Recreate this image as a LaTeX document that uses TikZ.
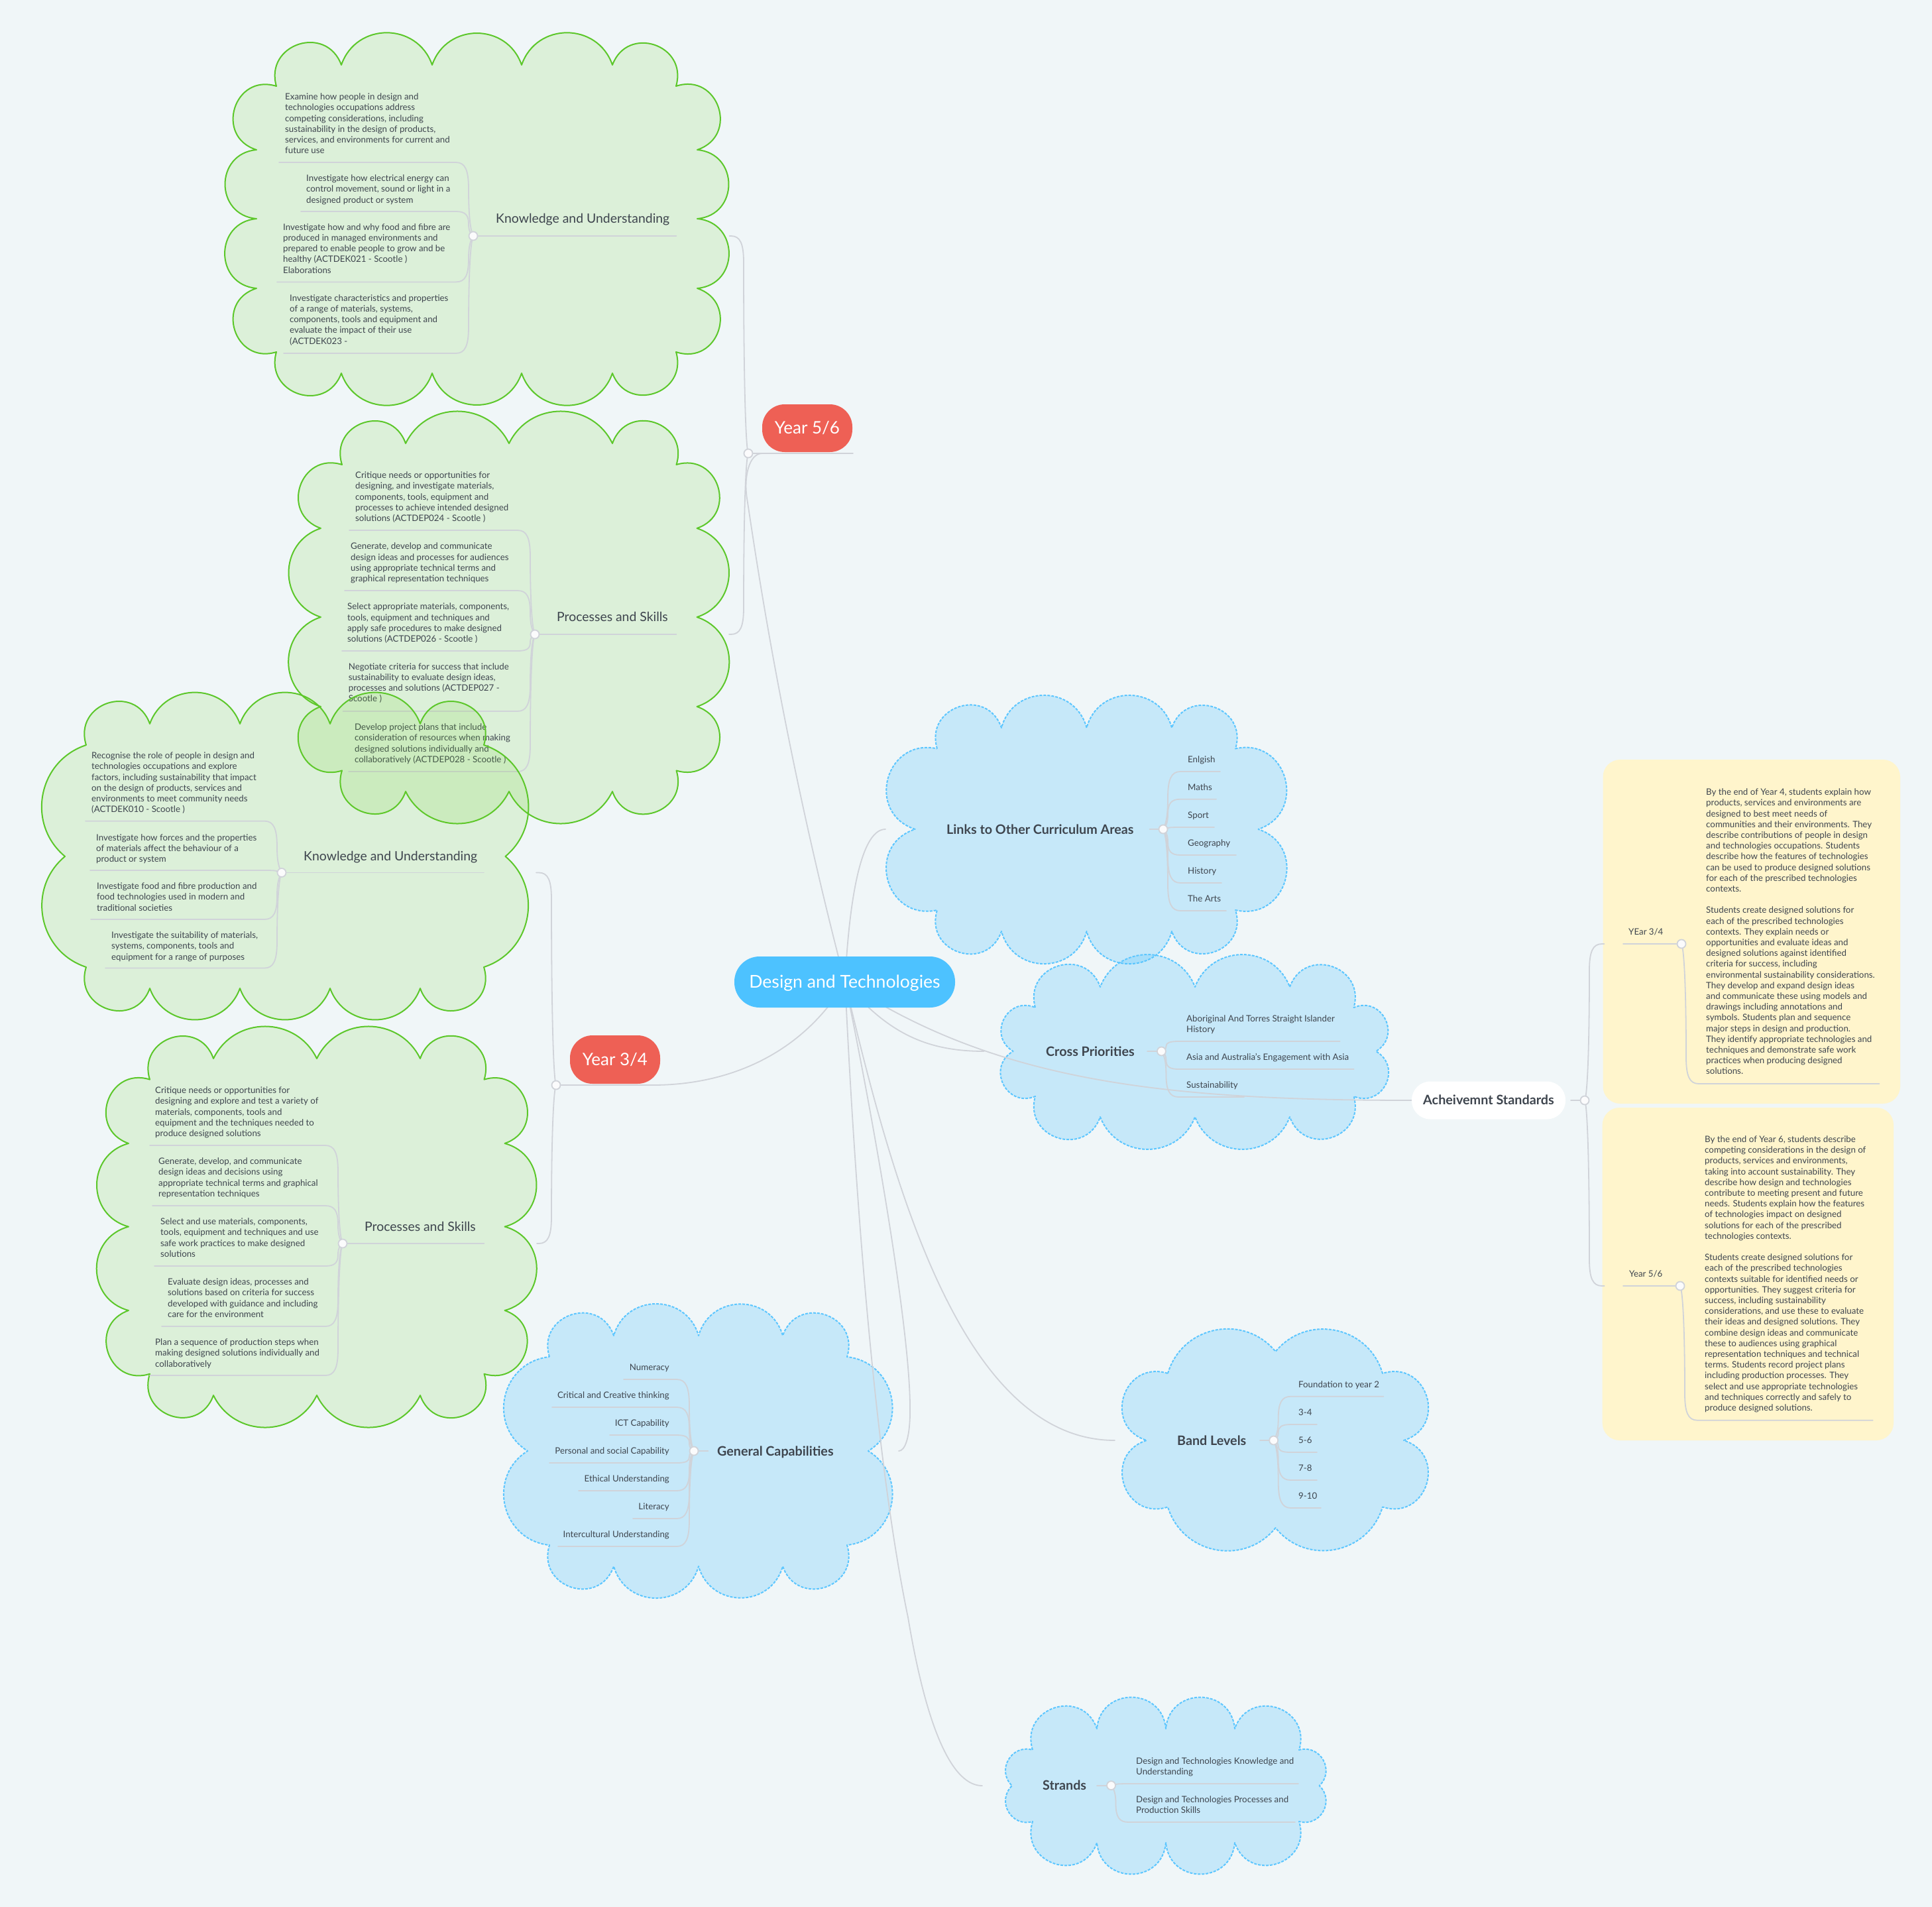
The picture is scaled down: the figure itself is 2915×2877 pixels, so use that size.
\documentclass[tikz,border=0pt]{standalone}
\usepackage{fontspec}
\setmainfont{Lato}
\usetikzlibrary{calc,topaths}
\definecolor{bgc}{HTML}{F0F6F8}
\definecolor{gline}{HTML}{5CC72A}
\definecolor{gfill}{HTML}{6CD028}
\definecolor{bline}{HTML}{5CC6FF}
\definecolor{bfill}{HTML}{4CC2FD}
\definecolor{conn}{HTML}{D0D3D9}
\definecolor{txt}{HTML}{3E454E}
\definecolor{topc}{HTML}{4DC2FF}
\definecolor{redc}{HTML}{EE6055}
\definecolor{yel}{HTML}{FFF5CC}
\tikzset{
  arcb/.code={\pgfmathsetmacro\lo{(4/3)*tan(#1/2)/(2*sin(#1))/0.3915}\tikzset{bend left=#1,looseness=\lo}},
  cloudg/.style={draw=gline,line width=2pt,fill=gfill,fill opacity=.15,line join=round},
  cloudb/.style={draw=bline,line width=2pt,dash pattern=on 4pt off 2pt,fill=bfill,fill opacity=.25,line join=round},
  conn/.style={draw=conn,line width=1.8pt,line cap=round},
  hubn/.style={circle,draw=conn,line width=1.8pt,fill=white!92!conn,minimum size=13pt,inner sep=0pt},
  paran/.style={anchor=north west,align=left,inner sep=0pt,text=txt,font=\fontsize{13.3}{16.2}\selectfont},
  parar/.style={anchor=north east,align=right,inner sep=0pt,text=txt,font=\fontsize{13.3}{16.2}\selectfont},
  sub/.style={anchor=base west,inner sep=0pt,text=txt,font=\fontsize{19.4}{24}\selectfont},
  boldn/.style={anchor=base west,inner sep=0pt,text=txt,font=\fontsize{19.7}{24}\selectfont\bfseries},
  topn/.style={rounded corners=38pt,fill=topc,text=white,font=\fontsize{26.6}{32}\selectfont,inner sep=0pt},
  redn/.style={rounded corners=34pt,fill=redc,text=white,font=\fontsize{26}{32}\selectfont,inner sep=0pt},
  whn/.style={rounded corners=28pt,fill=white,text=txt,font=\fontsize{19.8}{24}\selectfont\bfseries,inner sep=0pt},
  yelb/.style={fill=yel,rounded corners=26pt},
}
\newcommand\scal[4]{\path[#1] (#2,#3) \foreach \a/\b/\t in {#4} { to[arcb=\t] (\a,\b) } -- cycle;}
\newcommand\para[4]{\node[paran] (#1) at (#2,#3-5) {\rule{0pt}{10pt}#4};}
\newcommand\parr[4]{\node[parar] (#1) at (#2,#3-5) {\rule{0pt}{10pt}#4};}
\newcommand\lowered[2]{\raisebox{-#1pt}[0pt][0pt]{#2}}
\newcommand\branch[2]{\draw[conn] let \p1=(#1), \p2=(#2),
  \n1={(\x1>\x2)?1:-1}, \n2={(\y1>\y2)?1:-1},
  \n3={min(abs(\y1-\y2)*0.5,40)},
  \n4={\x1-(\n1)*26pt}, \n5={\x1-(\n1)*12pt}, \n6={\x1-(\n1)*7pt},
  \n7={\y2+(\n2)*\n3}, \n8={\y2+(\n2)*\n3*0.3},
  \n9={\n7+(\y1-\n7)*0.6}, \n{a}={\x1-(\n1)*4pt}, \n{b}={\y1-(\n2)*\n3*0.2}
  in (\x2,\y2) -- (\n4,\y2) .. controls (\n5,\y2) and (\n6,\n8) .. (\n6,\n7)
     .. controls (\n6,\n9) and (\n{a},\n{b}) .. (\x1,\y1);}
\newcommand\hubat[1]{\node[hubn] (#1n) at (#1) {};}
\begin{document}
\begin{tikzpicture}[x=1pt,y=-1pt]
\useasboundingbox (0,0) rectangle (2915,2877);
\fill[bgc] (0,0) rectangle (2915,2877);

% Cloud 1 : Year 5/6 Knowledge
\scal{cloudg}{417}{130}{515/98/88,652/98/71,787/98/71,924/98/71,1020/130/88,1052/226/90,1052/330/85,1052/435/85,1020/531/90,924/563/88,787/563/71,652/563/71,515/563/71,417/531/88,387/435/90,387/330/85,387/226/85,417/130/90}
\coordinate (h1) at (714,356);
\node[sub] (t1) at (748,336.5) {Knowledge and Understanding};
\para{a1}{430}{145.5}{Examine how people in design and\\technologies occupations address\\competing considerations, including\\sustainability in the design of products,\\services, and environments for current and\\future use}
\para{a2}{462}{268.4}{Investigate how electrical energy can\\control movement, sound or light in a\\designed product or system}
\para{a3}{427}{342}{Investigate how and why food and fibre are\\produced in managed environments and\\prepared to enable people to grow and be\\healthy (ACTDEK021 - Scootle )\\Elaborations}
\para{a4}{437}{449}{Investigate characteristics and properties\\of a range of materials, systems,\\components, tools and equipment and\\evaluate the impact of their use\\(ACTDEK023 -}
\coordinate (e1) at (1020.5,356);
\coordinate (a1e) at (421,245);\coordinate (a2e) at (454,319);\coordinate (a3e) at (418,425.4);\coordinate (a4e) at (428,533);
\draw[conn] (h1) -- (e1);
\branch{h1}{a1e}\branch{h1}{a2e}\branch{h1}{a3e}\branch{h1}{a4e}
\hubat{h1}

% Cloud 2 : Year 5/6 Processes
\scal{cloudg}{516}{701}{612/669/89,768/669/64,924/669/64,1020.5/701/89,1051.5/797/89,1051.5/931/72,1051.5/1066/72,1020.5/1162.5/89,924/1194/89,768/1194/64,612/1194/64,516/1162.5/89,484/1066/89,484/931/72,484/797/72,516/701/89}
\coordinate (h2) at (807,957);
\node[sub] (t2) at (840,937.5) {Processes and Skills};
\para{b1}{536}{716.5}{Critique needs or opportunities for\\designing, and investigate materials,\\components, tools, equipment and\\processes to achieve intended designed\\solutions (ACTDEP024 - Scootle )}
\para{b2}{529}{823.7}{Generate, develop and communicate\\design ideas and processes for audiences\\using appropriate technical terms and\\graphical representation techniques}
\para{b3}{524}{914.7}{Select appropriate materials, components,\\tools, equipment and techniques and\\apply safe procedures to make designed\\solutions (ACTDEP026 - Scootle )}
\para{b4}{525.6}{1005}{Negotiate criteria for success that include\\sustainability to evaluate design ideas,\\processes and solutions (ACTDEP027 -\\Scootle )}
\para{b5}{535}{1096.4}{Develop project plans that include\\consideration of resources when making\\designed solutions individually and\\collaboratively (ACTDEP028 - Scootle )}
\coordinate (e2) at (1020.5,957);
\coordinate (b1e) at (527,800);\coordinate (b2e) at (520,891);\coordinate (b3e) at (516,982);\coordinate (b4e) at (517.6,1073);\coordinate (b5e) at (526,1164);
\draw[conn] (h2) -- (e2);
\branch{h2}{b1e}\branch{h2}{b2e}\branch{h2}{b3e}\branch{h2}{b4e}\branch{h2}{b5e}
\hubat{h2}

% Cloud 3 : Year 3/4 Knowledge
\scal{cloudg}{130}{1124}{226/1092/89,362/1092/70,498/1092/70,634/1092/70,730/1124/89,762.5/1292/61,730/1459/61,634/1491/89,498/1491/70,362/1491/70,226/1491/70,130/1459/89,98/1292/61,130/1124/61}
\coordinate (h3) at (425,1316.5);
\node[sub] (t3) at (458,1298.5) {Knowledge and Understanding};
\para{c1}{138}{1139.5}{Recognise the role of people in design and\\technologies occupations and explore\\factors, including sustainability that impact\\on the design of products, services and\\environments to meet community needs\\(ACTDEK010 - Scootle )}
\para{c2}{145}{1262.8}{Investigate how forces and the properties\\of materials affect the behaviour of a\\product or system}
\para{c3}{146}{1336.5}{Investigate food and fibre production and\\food technologies used in modern and\\traditional societies}
\para{c4}{168}{1410.5}{Investigate the suitability of materials,\\systems, components, tools and\\equipment for a range of purposes}
\coordinate (e3) at (730,1316.5);
\coordinate (c1e) at (129,1238.7);\coordinate (c2e) at (136,1313);\coordinate (c3e) at (137,1387);\coordinate (c4e) at (159,1460.5);
\draw[conn] (h3) -- (e3);
\branch{h3}{c1e}\branch{h3}{c2e}\branch{h3}{c3e}\branch{h3}{c4e}
\hubat{h3}

% Cloud 4 : Year 3/4 Processes
\scal{cloudg}{226}{1628.6}{322/1597/89,478/1597/64,634/1597/64,730.5/1628.6/89,761.5/1725/89,761.5/1850.6/75,761.5/1977/75,730.5/2072.7/89,634/2105/89,478/2105/64,322/2105/64,226/2072.7/89,194/1977/89,194/1850.6/75,194/1725/75,226/1628.6/89}
\coordinate (h4) at (517,1876);
\node[sub] (t4) at (550,1857) {Processes and Skills};
\para{d1}{234}{1644.5}{Critique needs or opportunities for\\designing and explore and test a variety of\\materials, components, tools and\\equipment and the techniques needed to\\produce designed solutions}
\para{d2}{239}{1751.4}{Generate, develop, and communicate\\design ideas and decisions using\\appropriate technical terms and graphical\\representation techniques}
\para{d3}{242}{1842.4}{Select and use materials, components,\\tools, equipment and techniques and use\\safe work practices to make designed\\solutions}
\para{d4}{253}{1933.5}{Evaluate design ideas, processes and\\solutions based on criteria for success\\developed with guidance and including\\care for the environment}
\para{d5}{234}{2024.5}{Plan a sequence of production steps when\\making designed solutions individually and\\collaboratively}
\coordinate (e4) at (730.5,1876);
\coordinate (d1e) at (226,1728);\coordinate (d2e) at (230,1819);\coordinate (d3e) at (233,1910);\coordinate (d4e) at (244,2001);\coordinate (d5e) at (226,2075);
\draw[conn] (h4) -- (e4);
\branch{h4}{d1e}\branch{h4}{d2e}\branch{h4}{d3e}\branch{h4}{d4e}\branch{h4}{d5e}
\hubat{h4}

% Cloud 5 : General Capabilities
\scal{cloudb}{829}{2047}{926/2015/89,1054/2015/74,1181/2015/74,1278/2047/89,1310/2189/71,1278/2331/71,1181/2363/89,1054/2363/74,926/2363/74,829/2331/89,796/2189/71,829/2047/71}
\coordinate (h5) at (1047,2189);
\coordinate (s5) at (1068.5,2189);
\node[boldn] (t5) at (1082,2196) {General Capabilities};
\parr{g1}{1010}{2062.7}{Numeracy}
\parr{g2}{1010}{2104.3}{Critical and Creative thinking}
\parr{g3}{1010}{2146.7}{ICT Capability}
\parr{g4}{1010}{2188.7}{Personal and social Capability}
\parr{g5}{1010}{2230.7}{Ethical Understanding}
\parr{g6}{1010}{2272.7}{Literacy}
\parr{g7}{1010}{2314.7}{Intercultural Understanding}
\coordinate (g1e) at (941,2081);\coordinate (g2e) at (833,2123);\coordinate (g3e) at (920,2165);\coordinate (g4e) at (829,2207);\coordinate (g5e) at (873,2249);\coordinate (g6e) at (955,2291);\coordinate (g7e) at (842,2333);
\draw[conn] (h5) -- (s5);
\branch{h5}{g1e}\branch{h5}{g2e}\branch{h5}{g3e}\branch{h5}{g4e}\branch{h5}{g5e}\branch{h5}{g6e}\branch{h5}{g7e}
\hubat{h5}

% Cloud 6 : Links
\scal{cloudb}{1414}{1129.5}{1511/1098/89,1639.5/1098/75,1768/1098/75,1864/1129.5/89,1898.5/1251/87,1864/1373/87,1768/1405/89,1639.5/1405/75,1511/1405/75,1414/1373/89,1380.6/1251/87,1414/1129.5/87}
\coordinate (h6) at (1755,1251);
\coordinate (s6) at (1734.6,1251);
\node[boldn] (t6) at (1428,1258) {Links to Other Curriculum Areas};
\para{l1}{1792}{1145.6}{Enlgish}
\para{l2}{1792}{1187.4}{Maths}
\para{l3}{1792}{1229}{Sport}
\para{l4}{1792}{1271.4}{Geography}
\para{l5}{1792}{1313}{History}
\para{l6}{1792}{1355.4}{The Arts}
\coordinate (l1e) at (1841,1164);\coordinate (l2e) at (1835,1205.7);\coordinate (l3e) at (1832,1248);\coordinate (l4e) at (1865,1290);\coordinate (l5e) at (1843,1332);\coordinate (l6e) at (1850,1374);
\draw[conn] (h6) -- (s6);
\branch{h6}{l1e}\branch{h6}{l2e}\branch{h6}{l3e}\branch{h6}{l4e}\branch{h6}{l5e}\branch{h6}{l6e}
\hubat{h6}

% Cloud 7 : Cross Priorities
\scal{cloudb}{1562}{1520}{1660/1489/88,1803/1489/69,1946/1489/69,2042.6/1520/88,2076/1586/86,2042.6/1654/86,1946/1685/88,1803/1685/69,1660/1685/69,1562/1654/88,1528.6/1586/86,1562/1520/86}
\coordinate (h7) at (1752.4,1586);
\coordinate (s7) at (1731,1586);
\node[boldn] (t7) at (1578,1593) {Cross Priorities};
\para{x1}{1790}{1536.3}{Aboriginal And Torres Straight Islander\\History}
\para{x2}{1790}{1594.2}{Asia and Australia’s Engagement with Asia}
\para{x3}{1790}{1636.4}{Sustainability}
\coordinate (x1e) at (2021.6,1571);\coordinate (x2e) at (2042.6,1613);\coordinate (x3e) at (1877,1655);
\draw[conn] (h7) -- (s7);
\branch{h7}{x1e}\branch{h7}{x2e}\branch{h7}{x3e}
\hubat{h7}

% Cloud 8 : Band Levels
\scal{cloudb}{1762}{2072}{1924.5/2039/62,2086/2072/62,2118/2173/90,2086/2273.5/90,1924.5/2305/62,1762/2273.5/62,1730/2173/90,1762/2072/90}
\coordinate (h8) at (1921.7,2173);
\coordinate (s8) at (1901,2173);
\node[boldn] (t8) at (1776,2180) {Band Levels};
\para{n1}{1959}{2088}{Foundation to year 2}
\para{n2}{1959}{2130}{3-4}
\para{n3}{1959}{2172}{5-6}
\para{n4}{1959}{2214}{7-8}
\para{n5}{1959}{2256}{9-10}
\coordinate (n1e) at (2087.4,2106.7);\coordinate (n2e) at (1987,2149);\coordinate (n3e) at (1987,2191);\coordinate (n4e) at (1987,2233);\coordinate (n5e) at (1993,2275);
\draw[conn] (h8) -- (s8);
\branch{h8}{n1e}\branch{h8}{n2e}\branch{h8}{n3e}\branch{h8}{n4e}\branch{h8}{n5e}
\hubat{h8}

% Cloud 9 : Strands
\scal{cloudb}{1558}{2640}{1655/2608/89,1759/2608/85,1863/2608/85,1960/2640/89,1990.6/2694/76,1960/2748/76,1863/2780/89,1759/2780/85,1655/2780/85,1558/2748/89,1527/2694/76,1558/2640/76}
\coordinate (h9) at (1676.5,2693.6);
\coordinate (s9) at (1655,2693.6);
\node[boldn] (t9) at (1573,2700.5) {Strands};
\para{r1}{1714}{2656.4}{Design and Technologies Knowledge and\\Understanding}
\para{r2}{1714}{2714}{Design and Technologies Processes and\\Production Skills}
\coordinate (r1e) at (1959,2691);\coordinate (r2e) at (1954,2749);
\draw[conn] (h9) -- (s9);
\branch{h9}{r1e}\branch{h9}{r2e}
\hubat{h9}

% Yellow boxes
\fill[yelb] (2418.5,1146) rectangle (2867,1665);
\fill[yelb] (2417.7,1671) rectangle (2857,2173);
\coordinate (hy) at (2537,1424);
\coordinate (sy) at (2449,1424);
\para{y1}{2457}{1405.5}{YEar 3/4}
\para{y1t}{2574}{1194.4}{By the end of Year 4, students explain how\\products, services and environments are\\designed to best meet needs of\\communities and their environments. They\\describe contributions of people in design\\and technologies occupations. Students\\describe how the features of technologies\\can be used to produce designed solutions\\for each of the prescribed technologies\\contexts.\\[16.2pt]Students create designed solutions for\\each of the prescribed technologies\\contexts. They explain needs or\\opportunities and evaluate ideas and\\designed solutions against identified\\criteria for success, including\\environmental sustainability considerations.\\They develop and expand design ideas\\and communicate these using models and\\drawings including annotations and\\symbols. Students plan and sequence\\major steps in design and production.\\They identify appropriate technologies and\\techniques and demonstrate safe work\\practices when producing designed\\solutions.}
\coordinate (y1e) at (2835.5,1635);
\draw[conn] (hy) -- (sy);
\branch{hy}{y1e}
\hubat{hy}
\coordinate (hz) at (2535,1940);
\coordinate (sz) at (2449,1940);
\para{y2}{2458}{1921}{Year 5/6}
\para{y2t}{2572}{1718.3}{By the end of Year 6, students describe\\competing considerations in the design of\\products, services and environments,\\taking into account sustainability. They\\describe how design and technologies\\contribute to meeting present and future\\needs. Students explain how the features\\of technologies impact on designed\\solutions for each of the prescribed\\technologies contexts.\\[16.2pt]Students create designed solutions for\\each of the prescribed technologies\\contexts suitable for identified needs or\\opportunities. They suggest criteria for\\success, including sustainability\\considerations, and use these to evaluate\\their ideas and designed solutions. They\\combine design ideas and communicate\\these to audiences using graphical\\representation techniques and technical\\terms. Students record project plans\\including production processes. They\\select and use appropriate technologies\\and techniques correctly and safely to\\produce designed solutions.}
\coordinate (y2e) at (2825.7,2142.7);
\draw[conn] (hz) -- (sz);
\branch{hz}{y2e}
\hubat{hz}

% Main hubs and connectors
\coordinate (ctr) at (1275,1482);
\coordinate (h56) at (1129,684);
\coordinate (h34) at (839,1637);
\coordinate (hac) at (2391,1660);
\coordinate (e56) at (1287,684);
\coordinate (e34) at (996,1637);
\coordinate (ec1) at (1100.6,356);
\coordinate (ec2) at (1100,957);
\coordinate (ec3) at (809,1316.5);
\coordinate (ec4) at (810,1876);
\coordinate (ey1) at (2420.5,1424);
\coordinate (ey2) at (2420.7,1940);
\coordinate (sac) at (2370,1660);
\coordinate (elk) at (1336,1251);
\coordinate (ecr) at (1484.6,1586);
\coordinate (egc) at (1356,2189);
\coordinate (ebl) at (1682,2173);
\coordinate (est) at (1482,2694);
\coordinate (eac) at (2130,1660);
\draw[conn] (h56) -- (e56);
\draw[conn] (h34) -- (e34);
\draw[conn] (hac) -- (sac);
\branch{h56}{ec1}\branch{h56}{ec2}
\branch{h34}{ec3}\branch{h34}{ec4}
\branch{hac}{ey1}\branch{hac}{ey2}
\draw[conn] (ctr) .. controls (1175,1100) and (1135,800) .. (1127,752) .. controls (1122,720) and (1130,684) .. (1150,684);
\draw[conn] (ctr) .. controls (1210,1590) and (1100,1637) .. (985,1637);
\draw[conn] (ctr) .. controls (1280,1380) and (1295,1251) .. (elk);
\draw[conn] (ctr) .. controls (1340,1560) and (1400,1586) .. (ecr);
\draw[conn] (ctr) .. controls (1500,1630) and (1750,1660) .. (eac);
\draw[conn] (ctr) .. controls (1345,1780) and (1450,2173) .. (ebl);
\draw[conn] (ctr) .. controls (1320,1700) and (1372,2000) .. (1373,2120) .. controls (1374,2170) and (1365,2189) .. (egc);
\draw[conn] (ctr) .. controls (1290,1800) and (1320,2200) .. (1370,2440) .. controls (1400,2620) and (1440,2694) .. (est);
\hubat{h56}\hubat{h34}\hubat{hac}

% Topic nodes
\node[topn,minimum width=333pt,minimum height=77pt] (center) at (1274.5,1481.5) {\lowered{9}{Design and Technologies}};
\node[redn,minimum width=136pt,minimum height=72pt] (y56) at (1218,646) {\lowered{8.5}{Year 5/6}};
\node[redn,minimum width=136pt,minimum height=73pt] (y34) at (928,1598.5) {\lowered{9}{Year 3/4}};
\node[whn,minimum width=232pt,minimum height=57pt] (ach) at (2246,1660) {\lowered{6.5}{Acheivemnt Standards}};
\end{tikzpicture}
\end{document}
